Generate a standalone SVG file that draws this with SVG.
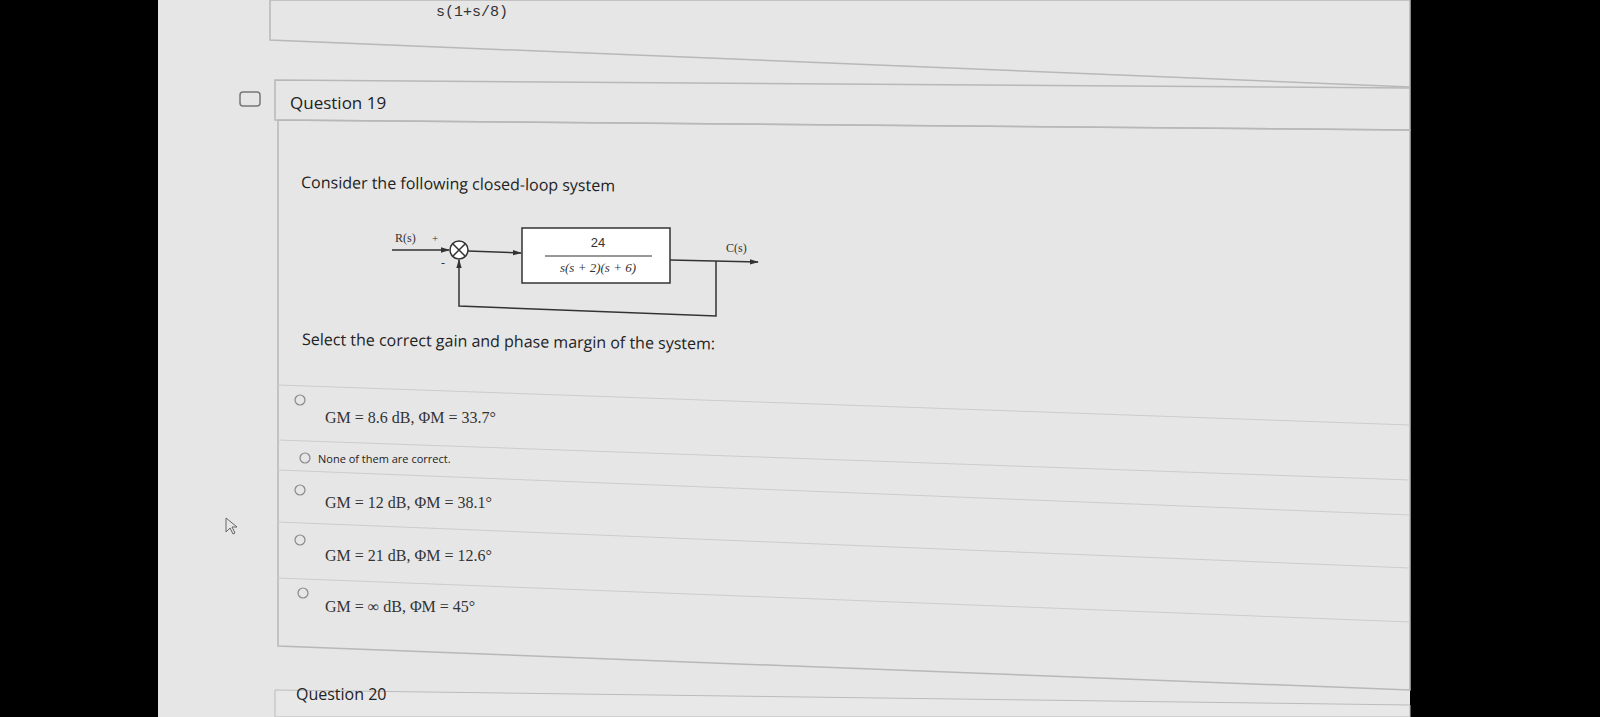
<svg xmlns="http://www.w3.org/2000/svg" width="1600" height="717" viewBox="0 0 1600 717">
<style>
.t{font-family:"Open Sans","Liberation Sans",sans-serif;fill:#222}
.m{font-family:"Liberation Serif",serif;fill:#333}
.ln{stroke:#333;stroke-width:1.5;fill:none}
.rad{fill:none;stroke:#888;stroke-width:1.2}
.pn{fill:none;stroke:#b8b8b8;stroke-width:1.5}
</style>
<defs><marker id="a" viewBox="0 0 10 10" refX="9" refY="5" markerWidth="6" markerHeight="6" orient="auto"><path d="M0,2 L10,5 L0,8 z" fill="#333"/></marker></defs>
<rect width="1600" height="717" fill="#000"/>
<polygon points="158,0 1410,0 1410,717 158,717" fill="#e6e6e6"/>
<g id="panels">
<polygon class="pn" points="270,0 1410,0 1410,87 270,40" fill="#ececec"/>
<polygon class="pn" points="275,80 1410,88 1410,130 275,120" fill="#e2e2e2"/>
<polygon class="pn" points="278,120 1410,130 1410,690 278,646" fill="#efefef"/>
</g>
<text x="436" y="16" style="font-family:'Liberation Mono',monospace;fill:#333" font-size="15">s(1+s/8)</text>
<rect x="240" y="92" width="20" height="14" rx="3" fill="none" stroke="#777" stroke-width="1.5"/>
<text class="t" x="290" y="109" font-size="17">Question 19</text>
<text class="t" x="301" y="188" font-size="16" transform="rotate(0.6 301 188)">Consider the following closed-loop system</text>
<g id="diagram">
<text class="m" x="395" y="242" font-size="12">R(s)</text>
<text class="m" x="432" y="242" font-size="11">+</text>
<text class="m" x="441" y="267" font-size="12">-</text>
<g id="sum"><circle cx="459" cy="250" r="9" fill="#fff" stroke="#333" stroke-width="1.5"/><path class="ln" d="M453,244 L465,256 M465,244 L453,256"/></g>
<g id="block"><rect x="522" y="228" width="148" height="55" fill="#fff" stroke="#333" stroke-width="1.5"/>
<text x="598" y="247" font-size="13" text-anchor="middle" font-family="Liberation Sans" fill="#333">24</text>
<line x1="545" y1="256" x2="652" y2="256" stroke="#333"/>
<text class="m" x="598" y="272" font-size="13" text-anchor="middle" font-style="italic">s(s + 2)(s + 6)</text></g>
<text class="m" x="726" y="252" font-size="12">C(s)</text>
<g id="connectors">
<line class="ln" x1="392" y1="250" x2="449" y2="250" marker-end="url(#a)"/>
<line class="ln" x1="468" y1="251" x2="521" y2="253" marker-end="url(#a)"/>
<line class="ln" x1="670" y1="260" x2="758" y2="262" marker-end="url(#a)"/>
<polyline class="ln" points="716,261 716,316 459,306 459,260" marker-end="url(#a)"/>
</g>
</g>
<text class="t" x="302" y="345" font-size="16" transform="rotate(0.6 302 345)">Select the correct gain and phase margin of the system:</text>
<g id="options">
<line x1="278" y1="385" x2="1410" y2="425" stroke="#ccc"/>
<circle class="rad" cx="300" cy="400" r="5"/>
<text class="m" x="325" y="423" font-size="16">GM = 8.6 dB, ΦM = 33.7°</text>
<line x1="278" y1="440" x2="1410" y2="480" stroke="#ccc"/>
<circle class="rad" cx="305" cy="458" r="5"/>
<text class="t" x="318" y="463" font-size="11">None of them are correct.</text>
<line x1="278" y1="470" x2="1410" y2="515" stroke="#ccc"/>
<circle class="rad" cx="300" cy="490" r="5"/>
<text class="m" x="325" y="508" font-size="16">GM = 12 dB, ΦM = 38.1°</text>
<line x1="278" y1="522" x2="1410" y2="568" stroke="#ccc"/>
<circle class="rad" cx="300" cy="540" r="5"/>
<text class="m" x="325" y="561" font-size="16">GM = 21 dB, ΦM = 12.6°</text>
<line x1="278" y1="578" x2="1410" y2="622" stroke="#ccc"/>
<circle class="rad" cx="303" cy="593" r="5"/>
<text class="m" x="325" y="612" font-size="16">GM = ∞ dB, ΦM = 45°</text>
</g>
<polygon points="275,690 1410,705 1410,717 275,717" fill="#e8e8e8" stroke="#bbb"/>
<text class="t" x="296" y="700" font-size="16">Question 20</text>
<path d="M226,518 l0,14 l4,-4 l3,6 l2,-1 l-3,-6 l5,0 z" fill="none" stroke="#666"/>
</svg>
